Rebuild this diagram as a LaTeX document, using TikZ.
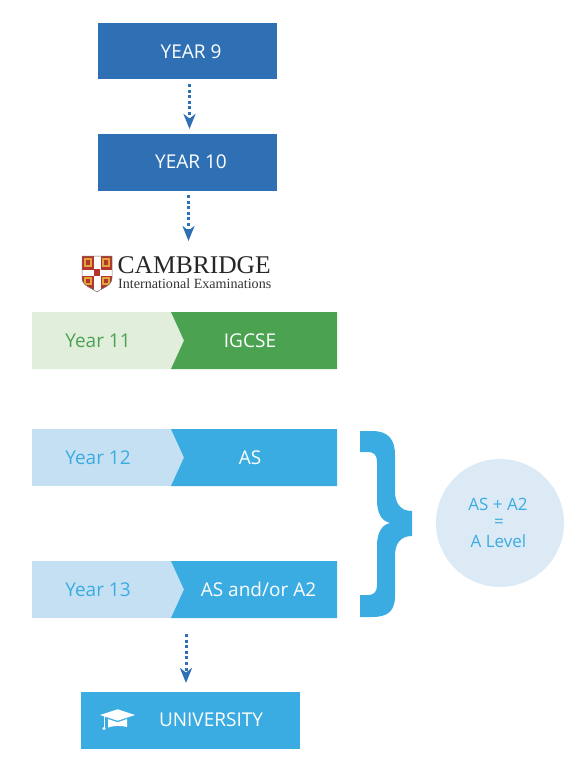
\documentclass[tikz,border=0pt]{standalone}
\usepackage{fontspec}
\setmainfont{Open Sans}
\newfontfamily\crestfont{Liberation Serif}
\usetikzlibrary{arrows.meta}
\definecolor{darkblue}{HTML}{2F70B5}
\definecolor{skyblue}{HTML}{3AACE1}
\definecolor{paleblue}{HTML}{C6E0F3}
\definecolor{circleblue}{HTML}{DCEAF6}
\definecolor{midgreen}{HTML}{4BA351}
\definecolor{palegreen}{HTML}{E1EEDC}
\definecolor{crestred}{HTML}{B5352C}
\definecolor{crestgold}{HTML}{E0A63A}
\tikzset{
  x=1pt,y=-1pt,
  boxstyle/.style={inner sep=0pt,outer sep=0pt,minimum height=57pt},
  labelstyle/.style={inner sep=0pt,font=\fontsize{19}{20}\selectfont},
  circlelabel/.style={inner sep=0pt,text=skyblue,font=\fontsize{17}{18}\selectfont},
  dotarrow/.style={draw=darkblue,line width=3pt,dash pattern=on 3pt off 2.6pt,
    -{Stealth[length=15pt,width=12pt,inset=4.5pt,fill=darkblue]}},
}
\newcommand{\band}[7]{% name, ymid, pale colour, strong colour, left text, right text, right text x
  \node[boxstyle,fill=#3,minimum width=153pt] (#1l) at (108.5,#2) {};
  \fill[#4] (171,#2-28.5) -- (337,#2-28.5) -- (337,#2+28.5) -- (171,#2+28.5) -- (184,#2) -- cycle;
  \node[boxstyle,minimum width=153pt] (#1r) at (260.5,#2) {};
  \node[labelstyle,text=#4] (#1lt) at (98,#2) {#5};
  \node[labelstyle,text=white] (#1rt) at (#7,#2) {#6};
}
\begin{document}
\begin{tikzpicture}
\useasboundingbox (0,0) rectangle (585,768);
% year boxes
\node[boxstyle,fill=darkblue,minimum width=179pt,minimum height=56pt] (y9) at (187.5,51) {};
\node[labelstyle,text=white] (y9t) at (191,52) {YEAR 9};
\node[boxstyle,fill=darkblue,minimum width=179pt] (y10) at (187.5,162.5) {};
\node[labelstyle,text=white] (y10t) at (191,162) {YEAR 10};
\draw[dotarrow,shorten <=5pt,shorten >=5pt] ([xshift=2pt]y9.south) -- ([xshift=2pt]y10.north);
\coordinate (crestarrow) at (188.5,241);
\draw[dotarrow,shorten <=4pt] ([xshift=1pt]y10.south) -- (crestarrow);
% crest
\begin{scope}
\clip (82,256) -- (112,256) -- (112,278) .. controls (112,286) and (102,288) .. (97,292) .. controls (92,288) and (82,286) .. (82,278) -- cycle;
\fill[crestred] (82,256) rectangle (112,292);
\fill[crestgold] (84,258) rectangle (92,267);
\fill[crestgold] (102,258) rectangle (110,267);
\fill[crestgold] (84,277) rectangle (92,285);
\fill[crestgold] (102,277) rectangle (110,285);
\fill[crestred] (86,260) rectangle (90,265);
\fill[crestred] (104,260) rectangle (108,265);
\fill[crestred] (86,279) rectangle (90,283);
\fill[crestred] (104,279) rectangle (108,283);
\fill[white] (93.5,256) rectangle (100.5,292);
\fill[white] (82,269.5) rectangle (112,275.5);
\fill[crestred] (94,269) rectangle (100,276);
\end{scope}
\draw[black!55,line width=.5pt] (82,256) -- (112,256) -- (112,278) .. controls (112,286) and (102,288) .. (97,292) .. controls (92,288) and (82,286) .. (82,278) -- cycle;
\node[inner sep=0pt,anchor=base west,font=\crestfont\fontsize{25.5}{26}\selectfont,text=black!85] (cam) at (117.5,273) {CAMBRIDGE};
\node[inner sep=0pt,anchor=base west,font=\crestfont\fontsize{14.1}{15}\selectfont,text=black!80] (cie) at (118,288.5) {International Examinations};
% bands
\band{yb}{340.5}{palegreen}{midgreen}{Year 11}{IGCSE}{250}
\band{tw}{457.5}{paleblue}{skyblue}{Year 12}{AS}{250}
\band{th}{589.5}{paleblue}{skyblue}{Year 13}{AS and/or A2}{258.5}
% brace
\fill[skyblue] (360,431) -- (372,431) .. controls (388,431) and (395,439) .. (395,455)
  -- (395,491) .. controls (395,503) and (400,511) .. (412,511)
  -- (412,536) .. controls (400,536) and (395,544) .. (395,556)
  -- (395,596) .. controls (395,611) and (388,617) .. (372,617)
  -- (360,617) -- (360,595) -- (368,595) .. controls (374,595) and (377,592) .. (377,585)
  -- (377,546) .. controls (377,532) and (382,525) .. (390,523)
  .. controls (382,521) and (377,514) .. (377,500)
  -- (377,462) .. controls (377,455) and (374,452) .. (368,452)
  -- (360,452) -- cycle;
% circle
\node[circle,fill=circleblue,minimum size=128pt,inner sep=0pt] (alevel) at (500,523) {};
\node[circlelabel] (c1) at (498,504) {AS + A2};
\node[circlelabel] (c2) at (499,523) {=};
\node[circlelabel] (c3) at (498.5,541) {A Level};
% university
\node[boxstyle,fill=skyblue,minimum width=219pt] (uni) at (190.5,720.5) {};
\node[labelstyle,text=white] (unit) at (211,720) {UNIVERSITY};
\coordinate (unistart) at (186,634);
\draw[dotarrow,shorten >=9pt] (unistart) -- (unistart |- uni.north);
% mortarboard
\fill[white] (100,715) -- (117.7,709.3) -- (135,715) -- (117.7,720.7) -- cycle;
\fill[white] (108,719) -- (117.7,722.3) -- (127,719) -- (127,727) .. controls (122,725.5) and (113,725.5) .. (108,727.5) -- cycle;
\draw[white,line width=1pt] (104,716) -- (104,728);
\fill[white] (104,728.5) circle (1.6);
\end{tikzpicture}
\end{document}
